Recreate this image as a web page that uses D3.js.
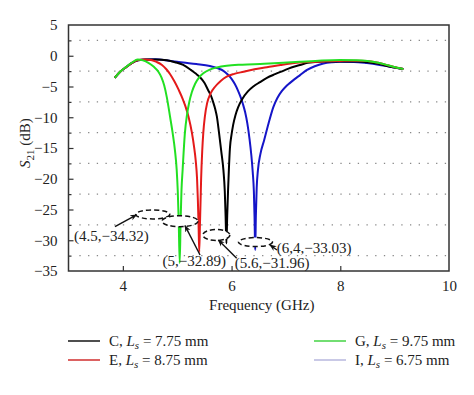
<!DOCTYPE html>
<html><head><meta charset="utf-8">
<script src="https://cdn.jsdelivr.net/npm/d3@7"></script>
<style>
body{margin:0;background:#fff}
svg{display:block}
text{font-family:"Liberation Serif","Times New Roman",serif;fill:#222}
</style>
</head><body>
<svg id="chart" width="474" height="395"></svg>
<script>
// ---- data ----
const xTickValues = [4, 6, 8, 10];
const yTickValues = [5, 0, -5, -10, -15, -20, -25, -30, -35];
const yMinorValues = [2.5, -2.5, -7.5, -12.5, -17.5, -22.5, -27.5, -32.5];
const gridValues = [2.5, -2.5, -7.5, -12.5, -17.5, -22.5, -27.5, -32.5];

const seriesNames = ["C", "E", "G", "I"];
const lsValues = ["7.75", "8.75", "9.75", "6.75"];

const curveC = [[3.85,-3.6],[3.95,-2.6],[4.07,-1.8],[4.17,-1.15],[4.28,-0.72],[4.42,-0.6],[4.6,-0.62],[4.81,-0.75],[4.96,-1.05],[5.11,-1.5],[5.25,-2.3],[5.34,-2.9],[5.42,-3.5],[5.5,-4.4],[5.57,-5.6],[5.62,-6.5],[5.66,-7.5],[5.7,-8.7],[5.73,-9.9],[5.77,-12.6],[5.81,-15.5],[5.85,-18.6],[5.875,-22],[5.89,-26],[5.905,-30.5],[5.92,-26],[5.935,-22],[5.95,-18.6],[5.97,-15],[6.0,-12.8],[6.03,-11.2],[6.07,-9.7],[6.12,-8.4],[6.2,-7.0],[6.3,-5.8],[6.4,-5.0],[6.52,-4.3],[6.65,-3.6],[6.8,-3.0],[6.95,-2.45],[7.1,-1.9],[7.26,-1.5],[7.4,-1.15],[7.7,-0.95],[7.99,-0.92],[8.3,-0.95],[8.5,-1.05],[8.7,-1.3],[8.9,-1.75],[9.05,-2.0],[9.16,-2.15]];

const curveE = [[3.85,-3.6],[3.95,-2.6],[4.07,-1.8],[4.17,-1.15],[4.28,-0.7],[4.4,-0.6],[4.52,-0.7],[4.62,-1.0],[4.72,-1.5],[4.8,-2.2],[4.87,-3.0],[4.95,-4.2],[5.03,-5.6],[5.1,-7.0],[5.15,-8.2],[5.21,-10.0],[5.27,-12.5],[5.31,-14.8],[5.34,-17],[5.365,-20],[5.38,-23.5],[5.393,-27.5],[5.405,-31.9],[5.418,-27.5],[5.43,-23.5],[5.44,-20],[5.46,-15.5],[5.48,-12.5],[5.51,-9.8],[5.55,-7.7],[5.61,-6.2],[5.7,-5.0],[5.8,-4.1],[5.91,-3.4],[6.05,-2.95],[6.22,-2.6],[6.42,-2.2],[6.65,-1.88],[6.9,-1.5],[7.2,-1.13],[7.5,-1.0],[7.75,-0.9],[7.99,-0.85],[8.3,-0.8],[8.5,-0.85],[8.7,-1.15],[8.88,-1.55],[9.05,-1.95],[9.16,-2.15]];

const curveG = [[3.85,-3.6],[3.95,-2.6],[4.07,-1.75],[4.17,-1.1],[4.27,-0.6],[4.37,-0.75],[4.47,-1.15],[4.57,-1.8],[4.65,-2.55],[4.71,-3.5],[4.76,-4.8],[4.81,-6.8],[4.87,-10],[4.915,-12.5],[4.96,-15.5],[4.99,-18.5],[5.01,-22],[5.028,-27],[5.046,-33.7],[5.062,-27],[5.078,-22],[5.1,-18.5],[5.14,-12.7],[5.18,-9.6],[5.22,-7.6],[5.27,-5.9],[5.33,-4.55],[5.4,-3.55],[5.48,-2.85],[5.6,-2.25],[5.73,-1.9],[5.91,-1.62],[6.2,-1.45],[6.6,-1.32],[6.95,-1.15],[7.26,-0.97],[7.6,-0.8],[7.99,-0.68],[8.3,-0.72],[8.5,-0.85],[8.7,-1.15],[8.88,-1.55],[9.05,-1.95],[9.16,-2.15]];

const curveI = [[3.85,-3.6],[3.95,-2.6],[4.07,-1.8],[4.17,-1.15],[4.28,-0.72],[4.45,-0.6],[4.6,-0.58],[4.85,-0.8],[5.11,-1.1],[5.35,-1.35],[5.6,-1.67],[5.75,-2.05],[5.85,-2.45],[5.93,-3.05],[6.0,-3.75],[6.06,-4.6],[6.12,-5.7],[6.17,-6.8],[6.21,-7.9],[6.25,-9.2],[6.29,-11],[6.33,-13.5],[6.365,-16.3],[6.39,-19],[6.41,-22],[6.422,-26],[6.435,-31.6],[6.447,-26],[6.462,-21.5],[6.485,-18.6],[6.53,-16],[6.6,-13.7],[6.68,-11],[6.77,-8.3],[6.84,-6.9],[6.92,-5.8],[7.0,-5.0],[7.07,-4.45],[7.16,-3.8],[7.26,-3.15],[7.38,-2.35],[7.53,-1.7],[7.69,-1.25],[7.85,-1.05],[7.99,-0.97],[8.25,-1.0],[8.49,-1.2],[8.7,-1.45],[8.91,-1.78],[9.16,-2.15]];

// annotations: ellipse centres (data coords) and label anchors (data coords)
const annoEllipses = [[4.55,-25.8],[5.05,-26.9],[5.72,-29.15],[6.44,-30.3]];
const annoLabels = ["(4.5,\u221234.32)", "(5,\u221232.89)", "(5.6,\u221231.96)", "(6,4,\u221233.03)"];
const annoLabelPos = [[3.1,-30.2],[4.73,-34.2],[6.06,-34.5],[6.83,-32.15]];
const annoArrowFrom = [[3.855,-27.8],[5.42,-32.4],[6.094,-32.94],[6.836,-31.58]];
const annoArrowTo = [[4.251,-25.86],[5.143,-27.63],[5.756,-29.96],[6.707,-30.77]];

// ---- drawing ----
const svg = d3.select("#chart");
const L = 68.5, R = 449, T = 25, B = 271;
const x = d3.scaleLinear().domain([3, 10]).range([L, R]);
const y = d3.scaleLinear().domain([-35, 5]).range([B, T]);
const FS = 15;

// grid
svg.append("g").selectAll("line").data(gridValues).join("line")
  .attr("x1", x(3.2)).attr("x2", x(9.95))
  .attr("y1", d => y(d)).attr("y2", d => y(d))
  .attr("stroke", "#888").attr("stroke-width", 1.3)
  .attr("stroke-dasharray", "1.3 7.4");

svg.append("clipPath").attr("id", "clip").append("rect")
  .attr("x", L).attr("y", T).attr("width", R - L).attr("height", B - T);

const line = d3.line().x(d => x(d[0])).y(d => y(d[1])).curve(d3.curveMonotoneX);
const drawOrder = [[curveI, "#1515c8"], [curveC, "#000000"], [curveE, "#e41a1a"], [curveG, "#22e022"]];
const g = svg.append("g").attr("clip-path", "url(#clip)");
drawOrder.forEach(([data, col]) => {
  g.append("path").datum(data).attr("d", line)
    .attr("fill", "none").attr("stroke", col).attr("stroke-width", 2)
    .attr("stroke-linejoin", "round");
});

// axes
const xAxis = d3.axisBottom(x).tickValues(xTickValues).tickSizeInner(-5).tickSizeOuter(0).tickPadding(9)
  .tickFormat(d3.format("d"));
const gx = svg.append("g").attr("transform", `translate(0,${B})`).call(xAxis);
const yAxis = d3.axisLeft(y).tickValues(yTickValues).tickSizeInner(-5).tickSizeOuter(0).tickPadding(11)
  .tickFormat(d => d < 0 ? "\u2212" + Math.abs(d) : d);
const gy = svg.append("g").attr("transform", `translate(${L},0)`).call(yAxis);
const gyMinor = svg.append("g").attr("transform", `translate(${L},0)`)
  .call(d3.axisLeft(y).tickValues(yMinorValues).tickSizeInner(-3).tickSizeOuter(0).tickFormat(""));
[gx, gy, gyMinor].forEach(a => {
  a.select(".domain").remove();
  a.selectAll("line").attr("stroke", "#333").attr("stroke-width", 1.2);
  a.selectAll("text").attr("font-size", FS).attr("fill", "#222")
    .attr("font-family", "Liberation Serif, serif");
});
gx.selectAll(".tick").filter(d => d === 10).select("line").remove();
gy.selectAll(".tick").filter(d => d === 5 || d === -35).select("line").remove();

// frame
svg.append("rect").attr("x", L).attr("y", T).attr("width", R - L).attr("height", B - T)
  .attr("fill", "none").attr("stroke", "#333").attr("stroke-width", 1.5);

// annotations
svg.append("defs").append("marker").attr("id", "arr")
  .attr("viewBox", "0 0 10 10").attr("refX", 9).attr("refY", 5)
  .attr("markerWidth", 7).attr("markerHeight", 7).attr("orient", "auto")
  .attr("markerUnits", "userSpaceOnUse")
  .append("path").attr("d", "M0,1 L10,5 L0,9 L3,5 Z").attr("fill", "#111");

const ellSizes = [[17, 4.5], [18, 5.5], [13.5, 5.5], [17, 4.5]];
annoEllipses.forEach((c, i) => {
  svg.append("ellipse").attr("cx", x(c[0])).attr("cy", y(c[1]))
    .attr("rx", ellSizes[i][0]).attr("ry", ellSizes[i][1])
    .attr("fill", "#fff")
    .attr("stroke", "#111").attr("stroke-width", 1.5).attr("stroke-dasharray", "5 3");
});
annoArrowFrom.forEach((p, i) => {
  svg.append("line").attr("x1", x(p[0])).attr("y1", y(p[1]))
    .attr("x2", x(annoArrowTo[i][0])).attr("y2", y(annoArrowTo[i][1]))
    .attr("stroke", "#111").attr("stroke-width", 1.4).attr("marker-end", "url(#arr)");
});
annoLabels.forEach((t, i) => {
  svg.append("text").attr("x", x(annoLabelPos[i][0])).attr("y", y(annoLabelPos[i][1]))
    .attr("font-size", FS).text(t);
});

// axis titles
svg.append("text").attr("x", (L + R) / 2 + 3).attr("y", 310).attr("text-anchor", "middle")
  .attr("font-size", FS).text("Frequency (GHz)");
const yl = svg.append("text").attr("transform", "translate(30,143) rotate(-90)")
  .attr("text-anchor", "middle").attr("font-size", FS);
yl.append("tspan").attr("font-style", "italic").text("S");
yl.append("tspan").attr("font-size", 11).attr("dy", 4).text("21");
yl.append("tspan").attr("dy", -4).text(" (dB)");

// legend
const legendColors = ["#222222", "#d43a3a", "#4fd64f", "#bcbce0"];
const legendPos = [[68, 341], [68, 360], [314, 341], [314, 360]];
seriesNames.forEach((n, i) => {
  const [lx, ly] = legendPos[i];
  svg.append("line").attr("x1", lx).attr("x2", lx + 32).attr("y1", ly).attr("y2", ly)
    .attr("stroke", legendColors[i]).attr("stroke-width", 1.6);
  const t = svg.append("text").attr("x", lx + 41).attr("y", ly + 5).attr("font-size", FS);
  t.append("tspan").text(n + ", ");
  t.append("tspan").attr("font-style", "italic").text("L");
  t.append("tspan").attr("font-style", "italic").attr("font-size", 11).attr("dy", 3).text("s");
  t.append("tspan").attr("dy", -3).text(" = " + lsValues[i] + " mm");
});
</script>
</body></html>
